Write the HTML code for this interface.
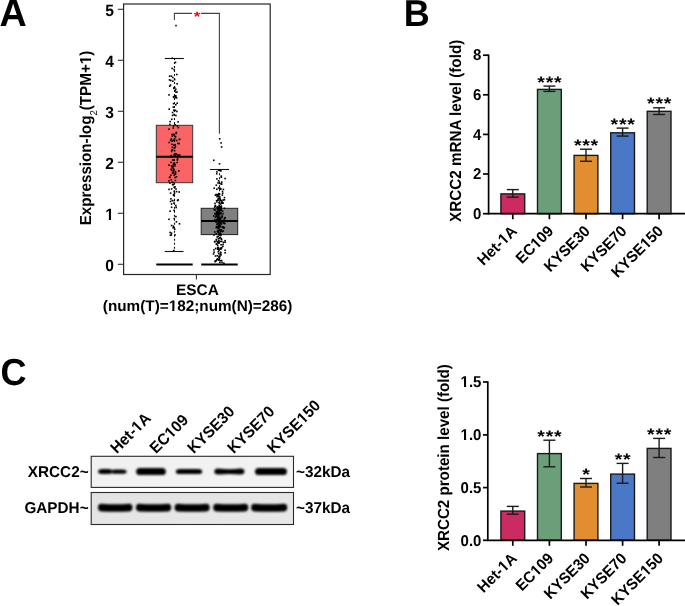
<!DOCTYPE html>
<html><head><meta charset="utf-8"><title>XRCC2 figure</title>
<style>html,body{margin:0;padding:0;background:#fff;overflow:hidden;}svg{display:block;}text{text-rendering:geometricPrecision;}</style>
</head><body>
<svg width="685" height="606" viewBox="0 0 685 606"><text transform="translate(-0.45,26.00) scale(1,1.03)" font-size="37.7" text-anchor="start" font-family="Liberation Sans, Arial, sans-serif" font-weight="bold" >A</text>
<rect x="156.3" y="125.3" width="36.4" height="57.4" fill="#FB6464" stroke="#333" stroke-width="1"/>
<rect x="201.2" y="208.3" width="36.5" height="26.3" fill="#808080" stroke="#222" stroke-width="1"/>
<g stroke="#111" stroke-width="1.1">
<line x1="164.8" y1="58.5" x2="183.9" y2="58.5"/>
<line x1="164.7" y1="251.5" x2="183.5" y2="251.5"/>
<line x1="210" y1="169.5" x2="229" y2="169.5"/>
<line x1="174.5" y1="58" x2="174.5" y2="125.3" stroke-dasharray="2,2"/>
<line x1="174.5" y1="182.7" x2="174.5" y2="251.1" stroke-dasharray="2,2"/>
<line x1="219.5" y1="169.2" x2="219.5" y2="208.3" stroke-dasharray="2,2"/>
</g>
<g fill="#000"><rect x="173.6" y="140.1" width="1.6" height="1.6"/><rect x="176.2" y="91.2" width="1.6" height="1.6"/><rect x="171.0" y="118.5" width="1.6" height="1.6"/><rect x="173.4" y="186.4" width="1.6" height="1.6"/><rect x="168.7" y="176.7" width="1.6" height="1.6"/><rect x="175.3" y="96.5" width="1.6" height="1.6"/><rect x="170.5" y="234.1" width="1.6" height="1.6"/><rect x="168.4" y="108.3" width="1.6" height="1.6"/><rect x="173.3" y="113.7" width="1.6" height="1.6"/><rect x="176.6" y="159.2" width="1.6" height="1.6"/><rect x="169.2" y="176.4" width="1.6" height="1.6"/><rect x="170.5" y="178.9" width="1.6" height="1.6"/><rect x="171.4" y="181.4" width="1.6" height="1.6"/><rect x="170.3" y="161.6" width="1.6" height="1.6"/><rect x="174.6" y="155.3" width="1.6" height="1.6"/><rect x="171.2" y="149.1" width="1.6" height="1.6"/><rect x="171.5" y="57.4" width="1.6" height="1.6"/><rect x="175.1" y="114.7" width="1.6" height="1.6"/><rect x="171.4" y="140.4" width="1.6" height="1.6"/><rect x="174.7" y="61.6" width="1.6" height="1.6"/><rect x="170.8" y="188.1" width="1.6" height="1.6"/><rect x="170.1" y="198.1" width="1.6" height="1.6"/><rect x="168.4" y="141.7" width="1.6" height="1.6"/><rect x="178.7" y="223.0" width="1.6" height="1.6"/><rect x="172.6" y="225.4" width="1.6" height="1.6"/><rect x="174.2" y="154.0" width="1.6" height="1.6"/><rect x="173.4" y="159.4" width="1.6" height="1.6"/><rect x="173.9" y="86.7" width="1.6" height="1.6"/><rect x="173.6" y="139.5" width="1.6" height="1.6"/><rect x="178.8" y="154.1" width="1.6" height="1.6"/><rect x="170.6" y="156.2" width="1.6" height="1.6"/><rect x="169.1" y="182.3" width="1.6" height="1.6"/><rect x="170.7" y="232.4" width="1.6" height="1.6"/><rect x="169.8" y="192.3" width="1.6" height="1.6"/><rect x="175.6" y="131.6" width="1.6" height="1.6"/><rect x="175.8" y="190.8" width="1.6" height="1.6"/><rect x="170.8" y="169.5" width="1.6" height="1.6"/><rect x="169.6" y="234.5" width="1.6" height="1.6"/><rect x="172.5" y="106.3" width="1.6" height="1.6"/><rect x="177.4" y="199.1" width="1.6" height="1.6"/><rect x="168.2" y="180.1" width="1.6" height="1.6"/><rect x="175.0" y="95.0" width="1.6" height="1.6"/><rect x="170.5" y="154.7" width="1.6" height="1.6"/><rect x="176.4" y="102.4" width="1.6" height="1.6"/><rect x="170.5" y="138.2" width="1.6" height="1.6"/><rect x="172.7" y="125.3" width="1.6" height="1.6"/><rect x="169.3" y="210.4" width="1.6" height="1.6"/><rect x="170.8" y="150.7" width="1.6" height="1.6"/><rect x="177.4" y="154.9" width="1.6" height="1.6"/><rect x="175.8" y="97.0" width="1.6" height="1.6"/><rect x="172.4" y="170.3" width="1.6" height="1.6"/><rect x="171.1" y="143.5" width="1.6" height="1.6"/><rect x="168.2" y="218.5" width="1.6" height="1.6"/><rect x="172.4" y="167.6" width="1.6" height="1.6"/><rect x="173.4" y="174.3" width="1.6" height="1.6"/><rect x="173.3" y="199.9" width="1.6" height="1.6"/><rect x="173.2" y="109.4" width="1.6" height="1.6"/><rect x="170.4" y="168.4" width="1.6" height="1.6"/><rect x="173.3" y="68.7" width="1.6" height="1.6"/><rect x="173.4" y="144.5" width="1.6" height="1.6"/><rect x="177.1" y="142.6" width="1.6" height="1.6"/><rect x="178.7" y="138.4" width="1.6" height="1.6"/><rect x="173.1" y="133.6" width="1.6" height="1.6"/><rect x="171.4" y="199.8" width="1.6" height="1.6"/><rect x="173.3" y="162.1" width="1.6" height="1.6"/><rect x="171.8" y="183.8" width="1.6" height="1.6"/><rect x="171.4" y="166.0" width="1.6" height="1.6"/><rect x="173.3" y="209.5" width="1.6" height="1.6"/><rect x="170.6" y="75.3" width="1.6" height="1.6"/><rect x="175.2" y="188.2" width="1.6" height="1.6"/><rect x="173.2" y="134.2" width="1.6" height="1.6"/><rect x="174.2" y="176.7" width="1.6" height="1.6"/><rect x="173.0" y="96.4" width="1.6" height="1.6"/><rect x="171.5" y="135.4" width="1.6" height="1.6"/><rect x="170.8" y="203.2" width="1.6" height="1.6"/><rect x="172.8" y="102.9" width="1.6" height="1.6"/><rect x="172.0" y="80.4" width="1.6" height="1.6"/><rect x="174.2" y="89.7" width="1.6" height="1.6"/><rect x="173.5" y="147.1" width="1.6" height="1.6"/><rect x="169.7" y="200.7" width="1.6" height="1.6"/><rect x="173.7" y="192.3" width="1.6" height="1.6"/><rect x="169.7" y="84.3" width="1.6" height="1.6"/><rect x="171.8" y="149.3" width="1.6" height="1.6"/><rect x="172.7" y="194.4" width="1.6" height="1.6"/><rect x="168.2" y="94.1" width="1.6" height="1.6"/><rect x="173.8" y="138.0" width="1.6" height="1.6"/><rect x="173.9" y="147.1" width="1.6" height="1.6"/><rect x="173.1" y="168.8" width="1.6" height="1.6"/><rect x="172.3" y="165.2" width="1.6" height="1.6"/><rect x="172.5" y="183.8" width="1.6" height="1.6"/><rect x="170.8" y="224.7" width="1.6" height="1.6"/><rect x="172.7" y="95.9" width="1.6" height="1.6"/><rect x="172.0" y="159.2" width="1.6" height="1.6"/><rect x="173.8" y="149.9" width="1.6" height="1.6"/><rect x="170.1" y="174.4" width="1.6" height="1.6"/><rect x="174.2" y="124.0" width="1.6" height="1.6"/><rect x="173.9" y="228.5" width="1.6" height="1.6"/><rect x="173.1" y="169.2" width="1.6" height="1.6"/><rect x="172.3" y="227.0" width="1.6" height="1.6"/><rect x="175.0" y="204.8" width="1.6" height="1.6"/><rect x="168.8" y="75.4" width="1.6" height="1.6"/><rect x="174.8" y="135.9" width="1.6" height="1.6"/><rect x="174.2" y="163.4" width="1.6" height="1.6"/><rect x="174.3" y="152.9" width="1.6" height="1.6"/><rect x="174.6" y="96.7" width="1.6" height="1.6"/><rect x="171.7" y="172.1" width="1.6" height="1.6"/><rect x="172.8" y="144.5" width="1.6" height="1.6"/><rect x="175.3" y="132.7" width="1.6" height="1.6"/><rect x="174.7" y="170.9" width="1.6" height="1.6"/><rect x="174.1" y="153.5" width="1.6" height="1.6"/><rect x="169.3" y="120.8" width="1.6" height="1.6"/><rect x="175.0" y="88.5" width="1.6" height="1.6"/><rect x="176.8" y="199.7" width="1.6" height="1.6"/><rect x="176.3" y="83.0" width="1.6" height="1.6"/><rect x="174.2" y="234.1" width="1.6" height="1.6"/><rect x="169.1" y="123.6" width="1.6" height="1.6"/><rect x="176.1" y="110.7" width="1.6" height="1.6"/><rect x="173.1" y="202.3" width="1.6" height="1.6"/><rect x="168.2" y="164.3" width="1.6" height="1.6"/><rect x="174.6" y="109.6" width="1.6" height="1.6"/><rect x="169.3" y="231.7" width="1.6" height="1.6"/><rect x="169.9" y="139.6" width="1.6" height="1.6"/><rect x="171.7" y="114.6" width="1.6" height="1.6"/><rect x="177.1" y="154.2" width="1.6" height="1.6"/><rect x="172.5" y="127.3" width="1.6" height="1.6"/><rect x="174.3" y="186.1" width="1.6" height="1.6"/><rect x="178.4" y="191.2" width="1.6" height="1.6"/><rect x="178.0" y="170.1" width="1.6" height="1.6"/><rect x="173.2" y="194.6" width="1.6" height="1.6"/><rect x="172.8" y="171.9" width="1.6" height="1.6"/><rect x="170.0" y="79.7" width="1.6" height="1.6"/><rect x="171.6" y="146.6" width="1.6" height="1.6"/><rect x="174.7" y="172.5" width="1.6" height="1.6"/><rect x="174.6" y="179.7" width="1.6" height="1.6"/><rect x="173.8" y="78.8" width="1.6" height="1.6"/><rect x="176.3" y="161.7" width="1.6" height="1.6"/><rect x="171.3" y="67.6" width="1.6" height="1.6"/><rect x="173.3" y="153.9" width="1.6" height="1.6"/><rect x="175.5" y="153.2" width="1.6" height="1.6"/><rect x="175.1" y="91.3" width="1.6" height="1.6"/><rect x="176.5" y="125.2" width="1.6" height="1.6"/><rect x="174.6" y="145.7" width="1.6" height="1.6"/><rect x="172.6" y="163.5" width="1.6" height="1.6"/><rect x="174.5" y="95.4" width="1.6" height="1.6"/><rect x="170.7" y="165.1" width="1.6" height="1.6"/><rect x="168.9" y="85.4" width="1.6" height="1.6"/><rect x="175.1" y="215.8" width="1.6" height="1.6"/><rect x="173.3" y="163.2" width="1.6" height="1.6"/><rect x="174.4" y="153.4" width="1.6" height="1.6"/><rect x="168.7" y="79.1" width="1.6" height="1.6"/><rect x="172.5" y="181.8" width="1.6" height="1.6"/><rect x="171.8" y="111.7" width="1.6" height="1.6"/><rect x="171.1" y="133.6" width="1.6" height="1.6"/><rect x="168.2" y="128.4" width="1.6" height="1.6"/><rect x="172.6" y="139.5" width="1.6" height="1.6"/><rect x="176.0" y="73.7" width="1.6" height="1.6"/><rect x="174.6" y="173.3" width="1.6" height="1.6"/><rect x="171.8" y="166.5" width="1.6" height="1.6"/><rect x="173.5" y="190.4" width="1.6" height="1.6"/><rect x="175.6" y="221.0" width="1.6" height="1.6"/><rect x="168.2" y="188.6" width="1.6" height="1.6"/><rect x="173.2" y="87.1" width="1.6" height="1.6"/><rect x="175.0" y="104.0" width="1.6" height="1.6"/><rect x="175.4" y="206.7" width="1.6" height="1.6"/><rect x="178.3" y="142.8" width="1.6" height="1.6"/><rect x="176.7" y="158.1" width="1.6" height="1.6"/><rect x="174.4" y="143.9" width="1.6" height="1.6"/><rect x="174.3" y="135.7" width="1.6" height="1.6"/><rect x="175.7" y="176.0" width="1.6" height="1.6"/><rect x="172.0" y="76.7" width="1.6" height="1.6"/><rect x="173.4" y="159.4" width="1.6" height="1.6"/><rect x="176.0" y="139.7" width="1.6" height="1.6"/><rect x="178.8" y="138.8" width="1.6" height="1.6"/><rect x="173.1" y="193.8" width="1.6" height="1.6"/><rect x="173.4" y="217.8" width="1.6" height="1.6"/><rect x="174.1" y="165.1" width="1.6" height="1.6"/><rect x="177.3" y="121.1" width="1.6" height="1.6"/><rect x="173.4" y="109.6" width="1.6" height="1.6"/><rect x="177.6" y="126.8" width="1.6" height="1.6"/><rect x="170.8" y="206.5" width="1.6" height="1.6"/><rect x="173.0" y="87.5" width="1.6" height="1.6"/><rect x="172.9" y="249.7" width="1.6" height="1.6"/><rect x="175.2" y="24.8" width="1.6" height="1.6"/><rect x="221.2" y="202.1" width="1.6" height="1.6"/><rect x="214.6" y="194.4" width="1.6" height="1.6"/><rect x="216.1" y="219.0" width="1.6" height="1.6"/><rect x="219.4" y="188.3" width="1.6" height="1.6"/><rect x="216.8" y="258.0" width="1.6" height="1.6"/><rect x="214.5" y="260.3" width="1.6" height="1.6"/><rect x="221.2" y="261.7" width="1.6" height="1.6"/><rect x="219.8" y="233.8" width="1.6" height="1.6"/><rect x="219.8" y="234.1" width="1.6" height="1.6"/><rect x="217.3" y="241.0" width="1.6" height="1.6"/><rect x="221.2" y="216.7" width="1.6" height="1.6"/><rect x="217.9" y="259.1" width="1.6" height="1.6"/><rect x="221.4" y="215.5" width="1.6" height="1.6"/><rect x="216.1" y="243.5" width="1.6" height="1.6"/><rect x="216.3" y="211.1" width="1.6" height="1.6"/><rect x="219.0" y="261.6" width="1.6" height="1.6"/><rect x="216.7" y="230.6" width="1.6" height="1.6"/><rect x="220.3" y="182.9" width="1.6" height="1.6"/><rect x="219.2" y="218.2" width="1.6" height="1.6"/><rect x="216.1" y="201.1" width="1.6" height="1.6"/><rect x="218.7" y="212.1" width="1.6" height="1.6"/><rect x="217.6" y="214.5" width="1.6" height="1.6"/><rect x="220.9" y="240.6" width="1.6" height="1.6"/><rect x="216.9" y="216.4" width="1.6" height="1.6"/><rect x="217.4" y="259.0" width="1.6" height="1.6"/><rect x="221.6" y="202.1" width="1.6" height="1.6"/><rect x="224.3" y="177.7" width="1.6" height="1.6"/><rect x="223.7" y="196.8" width="1.6" height="1.6"/><rect x="218.7" y="257.4" width="1.6" height="1.6"/><rect x="219.1" y="229.0" width="1.6" height="1.6"/><rect x="222.5" y="230.2" width="1.6" height="1.6"/><rect x="218.2" y="249.6" width="1.6" height="1.6"/><rect x="216.0" y="213.7" width="1.6" height="1.6"/><rect x="218.8" y="202.6" width="1.6" height="1.6"/><rect x="219.7" y="230.4" width="1.6" height="1.6"/><rect x="216.3" y="195.9" width="1.6" height="1.6"/><rect x="214.2" y="202.6" width="1.6" height="1.6"/><rect x="214.8" y="247.7" width="1.6" height="1.6"/><rect x="220.2" y="205.7" width="1.6" height="1.6"/><rect x="216.5" y="193.9" width="1.6" height="1.6"/><rect x="218.1" y="239.9" width="1.6" height="1.6"/><rect x="219.1" y="216.4" width="1.6" height="1.6"/><rect x="220.1" y="213.1" width="1.6" height="1.6"/><rect x="217.6" y="214.6" width="1.6" height="1.6"/><rect x="219.8" y="251.4" width="1.6" height="1.6"/><rect x="216.2" y="211.9" width="1.6" height="1.6"/><rect x="217.6" y="213.4" width="1.6" height="1.6"/><rect x="215.8" y="199.9" width="1.6" height="1.6"/><rect x="221.4" y="201.9" width="1.6" height="1.6"/><rect x="218.4" y="229.7" width="1.6" height="1.6"/><rect x="216.6" y="208.8" width="1.6" height="1.6"/><rect x="217.6" y="195.4" width="1.6" height="1.6"/><rect x="217.9" y="192.8" width="1.6" height="1.6"/><rect x="220.3" y="244.0" width="1.6" height="1.6"/><rect x="214.4" y="260.8" width="1.6" height="1.6"/><rect x="215.8" y="212.5" width="1.6" height="1.6"/><rect x="217.5" y="237.9" width="1.6" height="1.6"/><rect x="224.3" y="216.9" width="1.6" height="1.6"/><rect x="221.0" y="181.3" width="1.6" height="1.6"/><rect x="218.2" y="226.8" width="1.6" height="1.6"/><rect x="220.4" y="233.8" width="1.6" height="1.6"/><rect x="223.8" y="222.5" width="1.6" height="1.6"/><rect x="217.9" y="212.1" width="1.6" height="1.6"/><rect x="217.5" y="250.9" width="1.6" height="1.6"/><rect x="221.7" y="226.7" width="1.6" height="1.6"/><rect x="219.8" y="247.2" width="1.6" height="1.6"/><rect x="220.2" y="211.9" width="1.6" height="1.6"/><rect x="217.2" y="199.2" width="1.6" height="1.6"/><rect x="223.5" y="226.9" width="1.6" height="1.6"/><rect x="222.9" y="227.2" width="1.6" height="1.6"/><rect x="220.0" y="218.1" width="1.6" height="1.6"/><rect x="220.3" y="237.9" width="1.6" height="1.6"/><rect x="213.2" y="234.2" width="1.6" height="1.6"/><rect x="220.2" y="229.5" width="1.6" height="1.6"/><rect x="218.0" y="222.5" width="1.6" height="1.6"/><rect x="219.6" y="253.1" width="1.6" height="1.6"/><rect x="220.3" y="207.1" width="1.6" height="1.6"/><rect x="217.6" y="216.1" width="1.6" height="1.6"/><rect x="214.1" y="231.2" width="1.6" height="1.6"/><rect x="219.5" y="253.6" width="1.6" height="1.6"/><rect x="216.6" y="206.1" width="1.6" height="1.6"/><rect x="217.6" y="247.5" width="1.6" height="1.6"/><rect x="216.9" y="247.2" width="1.6" height="1.6"/><rect x="217.6" y="247.5" width="1.6" height="1.6"/><rect x="212.7" y="253.2" width="1.6" height="1.6"/><rect x="221.7" y="190.6" width="1.6" height="1.6"/><rect x="219.2" y="232.9" width="1.6" height="1.6"/><rect x="221.4" y="230.8" width="1.6" height="1.6"/><rect x="223.6" y="199.0" width="1.6" height="1.6"/><rect x="218.6" y="214.0" width="1.6" height="1.6"/><rect x="213.8" y="241.1" width="1.6" height="1.6"/><rect x="216.2" y="223.7" width="1.6" height="1.6"/><rect x="215.4" y="193.7" width="1.6" height="1.6"/><rect x="217.2" y="227.0" width="1.6" height="1.6"/><rect x="218.7" y="209.4" width="1.6" height="1.6"/><rect x="213.3" y="251.4" width="1.6" height="1.6"/><rect x="219.4" y="208.6" width="1.6" height="1.6"/><rect x="214.6" y="204.7" width="1.6" height="1.6"/><rect x="219.3" y="199.7" width="1.6" height="1.6"/><rect x="218.2" y="211.3" width="1.6" height="1.6"/><rect x="217.7" y="227.3" width="1.6" height="1.6"/><rect x="218.3" y="255.5" width="1.6" height="1.6"/><rect x="217.1" y="219.2" width="1.6" height="1.6"/><rect x="216.9" y="206.6" width="1.6" height="1.6"/><rect x="214.1" y="240.7" width="1.6" height="1.6"/><rect x="218.4" y="233.0" width="1.6" height="1.6"/><rect x="223.3" y="218.3" width="1.6" height="1.6"/><rect x="223.6" y="207.5" width="1.6" height="1.6"/><rect x="221.9" y="192.4" width="1.6" height="1.6"/><rect x="220.3" y="248.1" width="1.6" height="1.6"/><rect x="216.7" y="241.4" width="1.6" height="1.6"/><rect x="222.3" y="202.3" width="1.6" height="1.6"/><rect x="218.4" y="212.8" width="1.6" height="1.6"/><rect x="218.3" y="208.9" width="1.6" height="1.6"/><rect x="217.7" y="169.3" width="1.6" height="1.6"/><rect x="218.7" y="182.7" width="1.6" height="1.6"/><rect x="217.4" y="197.9" width="1.6" height="1.6"/><rect x="218.3" y="204.6" width="1.6" height="1.6"/><rect x="215.7" y="225.9" width="1.6" height="1.6"/><rect x="217.5" y="212.9" width="1.6" height="1.6"/><rect x="224.3" y="241.4" width="1.6" height="1.6"/><rect x="218.3" y="206.4" width="1.6" height="1.6"/><rect x="217.9" y="206.6" width="1.6" height="1.6"/><rect x="219.9" y="208.9" width="1.6" height="1.6"/><rect x="220.3" y="223.2" width="1.6" height="1.6"/><rect x="215.6" y="226.9" width="1.6" height="1.6"/><rect x="218.0" y="224.6" width="1.6" height="1.6"/><rect x="220.9" y="259.8" width="1.6" height="1.6"/><rect x="219.2" y="197.8" width="1.6" height="1.6"/><rect x="218.8" y="218.0" width="1.6" height="1.6"/><rect x="222.5" y="226.3" width="1.6" height="1.6"/><rect x="216.7" y="217.7" width="1.6" height="1.6"/><rect x="218.7" y="208.8" width="1.6" height="1.6"/><rect x="217.1" y="226.7" width="1.6" height="1.6"/><rect x="222.4" y="199.2" width="1.6" height="1.6"/><rect x="213.4" y="187.4" width="1.6" height="1.6"/><rect x="216.8" y="226.4" width="1.6" height="1.6"/><rect x="217.1" y="246.7" width="1.6" height="1.6"/><rect x="220.2" y="206.3" width="1.6" height="1.6"/><rect x="220.1" y="170.1" width="1.6" height="1.6"/><rect x="222.1" y="245.5" width="1.6" height="1.6"/><rect x="214.4" y="209.3" width="1.6" height="1.6"/><rect x="220.5" y="199.7" width="1.6" height="1.6"/><rect x="217.7" y="187.2" width="1.6" height="1.6"/><rect x="216.8" y="248.4" width="1.6" height="1.6"/><rect x="219.9" y="252.0" width="1.6" height="1.6"/><rect x="216.1" y="171.1" width="1.6" height="1.6"/><rect x="213.1" y="249.1" width="1.6" height="1.6"/><rect x="217.5" y="242.3" width="1.6" height="1.6"/><rect x="214.6" y="216.3" width="1.6" height="1.6"/><rect x="216.8" y="223.1" width="1.6" height="1.6"/><rect x="219.5" y="207.4" width="1.6" height="1.6"/><rect x="219.3" y="240.7" width="1.6" height="1.6"/><rect x="222.6" y="188.6" width="1.6" height="1.6"/><rect x="218.0" y="237.7" width="1.6" height="1.6"/><rect x="214.5" y="205.5" width="1.6" height="1.6"/><rect x="216.5" y="255.0" width="1.6" height="1.6"/><rect x="216.1" y="221.6" width="1.6" height="1.6"/><rect x="215.3" y="260.0" width="1.6" height="1.6"/><rect x="219.6" y="230.4" width="1.6" height="1.6"/><rect x="216.8" y="230.5" width="1.6" height="1.6"/><rect x="213.4" y="208.9" width="1.6" height="1.6"/><rect x="220.3" y="222.6" width="1.6" height="1.6"/><rect x="218.2" y="256.6" width="1.6" height="1.6"/><rect x="219.4" y="169.6" width="1.6" height="1.6"/><rect x="218.8" y="193.3" width="1.6" height="1.6"/><rect x="220.1" y="188.2" width="1.6" height="1.6"/><rect x="218.6" y="234.3" width="1.6" height="1.6"/><rect x="221.7" y="226.0" width="1.6" height="1.6"/><rect x="219.6" y="236.5" width="1.6" height="1.6"/><rect x="219.5" y="248.2" width="1.6" height="1.6"/><rect x="219.6" y="259.9" width="1.6" height="1.6"/><rect x="214.7" y="220.0" width="1.6" height="1.6"/><rect x="218.1" y="248.4" width="1.6" height="1.6"/><rect x="217.8" y="242.3" width="1.6" height="1.6"/><rect x="219.0" y="196.1" width="1.6" height="1.6"/><rect x="215.0" y="221.0" width="1.6" height="1.6"/><rect x="222.7" y="241.5" width="1.6" height="1.6"/><rect x="218.8" y="211.5" width="1.6" height="1.6"/><rect x="215.4" y="233.0" width="1.6" height="1.6"/><rect x="214.1" y="218.8" width="1.6" height="1.6"/><rect x="217.8" y="232.1" width="1.6" height="1.6"/><rect x="218.3" y="219.3" width="1.6" height="1.6"/><rect x="216.6" y="213.6" width="1.6" height="1.6"/><rect x="218.7" y="218.3" width="1.6" height="1.6"/><rect x="216.8" y="225.9" width="1.6" height="1.6"/><rect x="219.9" y="203.2" width="1.6" height="1.6"/><rect x="216.6" y="194.8" width="1.6" height="1.6"/><rect x="218.4" y="242.0" width="1.6" height="1.6"/><rect x="221.0" y="246.9" width="1.6" height="1.6"/><rect x="224.3" y="249.5" width="1.6" height="1.6"/><rect x="215.9" y="173.0" width="1.6" height="1.6"/><rect x="217.3" y="182.1" width="1.6" height="1.6"/><rect x="216.3" y="236.1" width="1.6" height="1.6"/><rect x="220.5" y="175.3" width="1.6" height="1.6"/><rect x="215.5" y="238.7" width="1.6" height="1.6"/><rect x="217.2" y="219.8" width="1.6" height="1.6"/><rect x="218.4" y="220.3" width="1.6" height="1.6"/><rect x="216.0" y="188.5" width="1.6" height="1.6"/><rect x="216.0" y="258.8" width="1.6" height="1.6"/><rect x="217.3" y="230.3" width="1.6" height="1.6"/><rect x="213.0" y="215.1" width="1.6" height="1.6"/><rect x="214.7" y="255.2" width="1.6" height="1.6"/><rect x="217.4" y="235.5" width="1.6" height="1.6"/><rect x="218.9" y="222.1" width="1.6" height="1.6"/><rect x="218.0" y="194.1" width="1.6" height="1.6"/><rect x="213.9" y="206.3" width="1.6" height="1.6"/><rect x="217.3" y="199.3" width="1.6" height="1.6"/><rect x="220.6" y="206.3" width="1.6" height="1.6"/><rect x="219.9" y="209.6" width="1.6" height="1.6"/><rect x="218.3" y="197.2" width="1.6" height="1.6"/><rect x="216.2" y="210.9" width="1.6" height="1.6"/><rect x="220.1" y="208.1" width="1.6" height="1.6"/><rect x="217.0" y="231.1" width="1.6" height="1.6"/><rect x="215.5" y="243.3" width="1.6" height="1.6"/><rect x="216.4" y="206.7" width="1.6" height="1.6"/><rect x="222.3" y="243.5" width="1.6" height="1.6"/><rect x="219.1" y="187.4" width="1.6" height="1.6"/><rect x="221.5" y="215.2" width="1.6" height="1.6"/><rect x="217.3" y="229.5" width="1.6" height="1.6"/><rect x="220.9" y="183.3" width="1.6" height="1.6"/><rect x="216.9" y="244.7" width="1.6" height="1.6"/><rect x="218.1" y="219.4" width="1.6" height="1.6"/><rect x="224.3" y="252.0" width="1.6" height="1.6"/><rect x="220.5" y="176.4" width="1.6" height="1.6"/><rect x="217.2" y="216.3" width="1.6" height="1.6"/><rect x="218.3" y="201.9" width="1.6" height="1.6"/><rect x="219.3" y="232.2" width="1.6" height="1.6"/><rect x="221.6" y="202.1" width="1.6" height="1.6"/><rect x="217.2" y="209.8" width="1.6" height="1.6"/><rect x="214.0" y="212.8" width="1.6" height="1.6"/><rect x="217.8" y="180.0" width="1.6" height="1.6"/><rect x="218.5" y="223.8" width="1.6" height="1.6"/><rect x="218.8" y="224.8" width="1.6" height="1.6"/><rect x="221.9" y="210.4" width="1.6" height="1.6"/><rect x="219.3" y="198.7" width="1.6" height="1.6"/><rect x="220.6" y="229.2" width="1.6" height="1.6"/><rect x="215.6" y="211.5" width="1.6" height="1.6"/><rect x="220.8" y="238.6" width="1.6" height="1.6"/><rect x="224.0" y="217.5" width="1.6" height="1.6"/><rect x="220.5" y="205.4" width="1.6" height="1.6"/><rect x="219.2" y="255.4" width="1.6" height="1.6"/><rect x="218.9" y="208.5" width="1.6" height="1.6"/><rect x="223.1" y="262.4" width="1.6" height="1.6"/><rect x="216.1" y="178.1" width="1.6" height="1.6"/><rect x="218.2" y="221.9" width="1.6" height="1.6"/><rect x="219.7" y="225.2" width="1.6" height="1.6"/><rect x="220.4" y="208.9" width="1.6" height="1.6"/><rect x="217.4" y="219.0" width="1.6" height="1.6"/><rect x="219.3" y="208.4" width="1.6" height="1.6"/><rect x="217.8" y="252.8" width="1.6" height="1.6"/><rect x="218.8" y="216.9" width="1.6" height="1.6"/><rect x="218.2" y="217.2" width="1.6" height="1.6"/><rect x="215.5" y="184.4" width="1.6" height="1.6"/><rect x="218.4" y="259.0" width="1.6" height="1.6"/><rect x="220.8" y="222.7" width="1.6" height="1.6"/><rect x="216.0" y="213.5" width="1.6" height="1.6"/><rect x="217.9" y="217.6" width="1.6" height="1.6"/><rect x="220.2" y="254.1" width="1.6" height="1.6"/><rect x="215.7" y="215.4" width="1.6" height="1.6"/><rect x="219.0" y="237.1" width="1.6" height="1.6"/><rect x="215.7" y="240.1" width="1.6" height="1.6"/><rect x="221.5" y="194.3" width="1.6" height="1.6"/><rect x="224.3" y="239.9" width="1.6" height="1.6"/><rect x="223.8" y="222.7" width="1.6" height="1.6"/><rect x="217.9" y="207.4" width="1.6" height="1.6"/><rect x="220.4" y="209.6" width="1.6" height="1.6"/><rect x="218.8" y="217.4" width="1.6" height="1.6"/><rect x="218.8" y="201.6" width="1.6" height="1.6"/><rect x="222.5" y="222.0" width="1.6" height="1.6"/><rect x="215.1" y="214.0" width="1.6" height="1.6"/><rect x="221.2" y="200.4" width="1.6" height="1.6"/><rect x="218.4" y="211.1" width="1.6" height="1.6"/><rect x="222.2" y="212.9" width="1.6" height="1.6"/><rect x="219.0" y="225.3" width="1.6" height="1.6"/><rect x="216.8" y="217.2" width="1.6" height="1.6"/><rect x="219.2" y="225.9" width="1.6" height="1.6"/><rect x="220.4" y="207.7" width="1.6" height="1.6"/><rect x="218.6" y="226.7" width="1.6" height="1.6"/><rect x="219.8" y="222.0" width="1.6" height="1.6"/><rect x="217.1" y="206.8" width="1.6" height="1.6"/><rect x="213.0" y="159.5" width="1.6" height="1.6"/><rect x="220.8" y="146.2" width="1.6" height="1.6"/><rect x="220.3" y="142.1" width="1.6" height="1.6"/><rect x="218.9" y="138.0" width="1.6" height="1.6"/><rect x="218.7" y="163.0" width="1.6" height="1.6"/></g>
<g stroke="#000" stroke-width="2">
<line x1="156.3" y1="156.7" x2="192.7" y2="156.7"/>
<line x1="201.2" y1="221" x2="237.7" y2="221"/>
<line x1="156.3" y1="264.6" x2="192.7" y2="264.6"/>
<line x1="201.2" y1="264.6" x2="237.7" y2="264.6"/>
</g>
<g stroke="#444" stroke-width="1.1" fill="none">
<polyline points="174.4,19.9 174.4,13.4 192.1,13.4"/>
<polyline points="200.9,13.4 219.4,13.4 219.4,133.8"/>
</g>
<text transform="translate(197.1,20.9) scale(1,0.8)" font-size="17" fill="#f00" text-anchor="middle" font-family="Liberation Sans, Arial, sans-serif" font-weight="bold">*</text>
<rect x="123.6" y="4.0" width="146.6" height="270.5" fill="none" stroke="#262626" stroke-width="1.2"/>
<line x1="117.8" y1="264.3" x2="123.6" y2="264.3" stroke="#333" stroke-width="1.1"/>
<text transform="translate(113.90,270.65) scale(1,1.04)" font-size="15.6" text-anchor="end" font-family="Liberation Sans, Arial, sans-serif" font-weight="bold" >0</text>
<line x1="117.8" y1="213.3" x2="123.6" y2="213.3" stroke="#333" stroke-width="1.1"/>
<text transform="translate(113.90,219.65) scale(1,1.04)" font-size="15.6" text-anchor="end" font-family="Liberation Sans, Arial, sans-serif" font-weight="bold" >1</text>
<line x1="117.8" y1="162.3" x2="123.6" y2="162.3" stroke="#333" stroke-width="1.1"/>
<text transform="translate(113.90,168.65) scale(1,1.04)" font-size="15.6" text-anchor="end" font-family="Liberation Sans, Arial, sans-serif" font-weight="bold" >2</text>
<line x1="117.8" y1="111.3" x2="123.6" y2="111.3" stroke="#333" stroke-width="1.1"/>
<text transform="translate(113.90,117.65) scale(1,1.04)" font-size="15.6" text-anchor="end" font-family="Liberation Sans, Arial, sans-serif" font-weight="bold" >3</text>
<line x1="117.8" y1="60.3" x2="123.6" y2="60.3" stroke="#333" stroke-width="1.1"/>
<text transform="translate(113.90,66.65) scale(1,1.04)" font-size="15.6" text-anchor="end" font-family="Liberation Sans, Arial, sans-serif" font-weight="bold" >4</text>
<line x1="117.8" y1="9.3" x2="123.6" y2="9.3" stroke="#333" stroke-width="1.1"/>
<text transform="translate(113.90,15.65) scale(1,1.04)" font-size="15.6" text-anchor="end" font-family="Liberation Sans, Arial, sans-serif" font-weight="bold" >5</text>
<line x1="196.4" y1="274.3" x2="196.4" y2="279.5" stroke="#333" stroke-width="1.1"/>
<text transform="translate(197.40,295.20)" font-size="15.4" text-anchor="middle" font-family="Liberation Sans, Arial, sans-serif" font-weight="bold" >ESCA</text>
<text transform="translate(197.60,311.30)" font-size="15.3" text-anchor="middle" font-family="Liberation Sans, Arial, sans-serif" font-weight="bold" >(num(T)=182;num(N)=286)</text>
<text transform="translate(91.20,138.00) rotate(-90) scale(1,1.05)" font-size="15.2" text-anchor="middle" font-family="Liberation Sans, Arial, sans-serif" font-weight="bold" >Expression-log<tspan font-size="9.6" font-weight="normal" dy="5.3">2</tspan><tspan dy="-5.3">(TPM+1)</tspan></text>
<text transform="translate(403.80,26.00) scale(1,1.036)" font-size="36" text-anchor="start" font-family="Liberation Sans, Arial, sans-serif" font-weight="bold" >B</text>
<rect x="500.9" y="193.9" width="23.8" height="19.8" fill="#CC2A63" stroke="#1a1a1a" stroke-width="1.4"/>
<g stroke="#1a1a1a" stroke-width="1.4"><line x1="512.8" y1="189.6" x2="512.8" y2="197.2"/><line x1="506.79999999999995" y1="189.6" x2="518.8" y2="189.6"/><line x1="506.79999999999995" y1="197.2" x2="518.8" y2="197.2"/></g>
<rect x="537.5" y="89.4" width="23.8" height="124.3" fill="#6A9F7A" stroke="#1a1a1a" stroke-width="1.4"/>
<g stroke="#1a1a1a" stroke-width="1.4"><line x1="549.4" y1="86.1" x2="549.4" y2="91.4"/><line x1="543.4" y1="86.1" x2="555.4" y2="86.1"/><line x1="543.4" y1="91.4" x2="555.4" y2="91.4"/></g>
<text transform="translate(549.85,87.50) scale(1,0.85)" font-size="19.6" letter-spacing="0.7" text-anchor="middle" font-family="Liberation Sans, Arial, sans-serif" font-weight="bold">***</text>
<rect x="574.1" y="155.4" width="23.8" height="58.3" fill="#E18E30" stroke="#1a1a1a" stroke-width="1.4"/>
<g stroke="#1a1a1a" stroke-width="1.4"><line x1="586.0" y1="149.2" x2="586.0" y2="161.3"/><line x1="580.0" y1="149.2" x2="592.0" y2="149.2"/><line x1="580.0" y1="161.3" x2="592.0" y2="161.3"/></g>
<text transform="translate(586.45,150.60) scale(1,0.85)" font-size="19.6" letter-spacing="0.7" text-anchor="middle" font-family="Liberation Sans, Arial, sans-serif" font-weight="bold">***</text>
<rect x="610.7" y="132.8" width="23.8" height="80.9" fill="#4A78C6" stroke="#1a1a1a" stroke-width="1.4"/>
<g stroke="#1a1a1a" stroke-width="1.4"><line x1="622.6" y1="128.1" x2="622.6" y2="136.1"/><line x1="616.6" y1="128.1" x2="628.6" y2="128.1"/><line x1="616.6" y1="136.1" x2="628.6" y2="136.1"/></g>
<text transform="translate(623.05,129.50) scale(1,0.85)" font-size="19.6" letter-spacing="0.7" text-anchor="middle" font-family="Liberation Sans, Arial, sans-serif" font-weight="bold">***</text>
<rect x="647.2" y="111.3" width="23.8" height="102.4" fill="#7F7F7F" stroke="#1a1a1a" stroke-width="1.4"/>
<g stroke="#1a1a1a" stroke-width="1.4"><line x1="659.1" y1="107.8" x2="659.1" y2="114.5"/><line x1="653.1" y1="107.8" x2="665.1" y2="107.8"/><line x1="653.1" y1="114.5" x2="665.1" y2="114.5"/></g>
<text transform="translate(659.55,109.20) scale(1,0.85)" font-size="19.6" letter-spacing="0.7" text-anchor="middle" font-family="Liberation Sans, Arial, sans-serif" font-weight="bold">***</text>
<line x1="488.6" y1="54.5" x2="488.6" y2="214.39999999999998" stroke="#000" stroke-width="1.7"/>
<line x1="487.8" y1="213.7" x2="685" y2="213.7" stroke="#000" stroke-width="1.8"/>
<line x1="483" y1="55.2" x2="488.6" y2="55.2" stroke="#000" stroke-width="1.7"/>
<text transform="translate(481.40,60.40) scale(1,1.04)" font-size="15" text-anchor="end" font-family="Liberation Sans, Arial, sans-serif" font-weight="bold" >8</text>
<line x1="483" y1="94.8" x2="488.6" y2="94.8" stroke="#000" stroke-width="1.7"/>
<text transform="translate(481.40,100.00) scale(1,1.04)" font-size="15" text-anchor="end" font-family="Liberation Sans, Arial, sans-serif" font-weight="bold" >6</text>
<line x1="483" y1="134.4" x2="488.6" y2="134.4" stroke="#000" stroke-width="1.7"/>
<text transform="translate(481.40,139.60) scale(1,1.04)" font-size="15" text-anchor="end" font-family="Liberation Sans, Arial, sans-serif" font-weight="bold" >4</text>
<line x1="483" y1="174" x2="488.6" y2="174" stroke="#000" stroke-width="1.7"/>
<text transform="translate(481.40,179.20) scale(1,1.04)" font-size="15" text-anchor="end" font-family="Liberation Sans, Arial, sans-serif" font-weight="bold" >2</text>
<line x1="483" y1="213.7" x2="488.6" y2="213.7" stroke="#000" stroke-width="1.7"/>
<text transform="translate(481.40,218.90) scale(1,1.04)" font-size="15" text-anchor="end" font-family="Liberation Sans, Arial, sans-serif" font-weight="bold" >0</text>
<line x1="512.8" y1="213.7" x2="512.8" y2="219.2" stroke="#000" stroke-width="1.7"/>
<text transform="translate(517.80,232.00) rotate(-45) scale(1,1.04)" font-size="15" text-anchor="end" font-family="Liberation Sans, Arial, sans-serif" font-weight="bold" >Het-1A</text>
<line x1="549.4" y1="213.7" x2="549.4" y2="219.2" stroke="#000" stroke-width="1.7"/>
<text transform="translate(554.40,232.00) rotate(-45) scale(1,1.04)" font-size="15" text-anchor="end" font-family="Liberation Sans, Arial, sans-serif" font-weight="bold" >EC109</text>
<line x1="586.0" y1="213.7" x2="586.0" y2="219.2" stroke="#000" stroke-width="1.7"/>
<text transform="translate(591.00,232.00) rotate(-45) scale(1,1.04)" font-size="15" text-anchor="end" font-family="Liberation Sans, Arial, sans-serif" font-weight="bold" >KYSE30</text>
<line x1="622.6" y1="213.7" x2="622.6" y2="219.2" stroke="#000" stroke-width="1.7"/>
<text transform="translate(627.60,232.00) rotate(-45) scale(1,1.04)" font-size="15" text-anchor="end" font-family="Liberation Sans, Arial, sans-serif" font-weight="bold" >KYSE70</text>
<line x1="659.1" y1="213.7" x2="659.1" y2="219.2" stroke="#000" stroke-width="1.7"/>
<text transform="translate(664.10,232.00) rotate(-45) scale(1,1.04)" font-size="15" text-anchor="end" font-family="Liberation Sans, Arial, sans-serif" font-weight="bold" >KYSE150</text>
<text transform="translate(460.60,130.85) rotate(-90) scale(1,1.06)" font-size="15.24" text-anchor="middle" font-family="Liberation Sans, Arial, sans-serif" font-weight="bold" >XRCC2 mRNA level (fold)</text>
<text transform="translate(0.40,385.40) scale(1,1.05)" font-size="36" text-anchor="start" font-family="Liberation Sans, Arial, sans-serif" font-weight="bold" >C</text>
<rect x="500.9" y="511.1" width="23.8" height="29.2" fill="#CC2A63" stroke="#1a1a1a" stroke-width="1.4"/>
<g stroke="#1a1a1a" stroke-width="1.4"><line x1="512.8" y1="506.4" x2="512.8" y2="514.2"/><line x1="506.79999999999995" y1="506.4" x2="518.8" y2="506.4"/><line x1="506.79999999999995" y1="514.2" x2="518.8" y2="514.2"/></g>
<rect x="537.5" y="453.6" width="23.8" height="86.7" fill="#6A9F7A" stroke="#1a1a1a" stroke-width="1.4"/>
<g stroke="#1a1a1a" stroke-width="1.4"><line x1="549.4" y1="440.2" x2="549.4" y2="466.8"/><line x1="543.4" y1="440.2" x2="555.4" y2="440.2"/><line x1="543.4" y1="466.8" x2="555.4" y2="466.8"/></g>
<text transform="translate(549.85,441.60) scale(1,0.85)" font-size="19.6" letter-spacing="0.7" text-anchor="middle" font-family="Liberation Sans, Arial, sans-serif" font-weight="bold">***</text>
<rect x="574.1" y="483.4" width="23.8" height="56.9" fill="#E18E30" stroke="#1a1a1a" stroke-width="1.4"/>
<g stroke="#1a1a1a" stroke-width="1.4"><line x1="586.0" y1="478.5" x2="586.0" y2="487"/><line x1="580.0" y1="478.5" x2="592.0" y2="478.5"/><line x1="580.0" y1="487" x2="592.0" y2="487"/></g>
<text transform="translate(586.45,479.90) scale(1,0.85)" font-size="19.6" letter-spacing="0.7" text-anchor="middle" font-family="Liberation Sans, Arial, sans-serif" font-weight="bold">*</text>
<rect x="610.7" y="474.1" width="23.8" height="66.2" fill="#4A78C6" stroke="#1a1a1a" stroke-width="1.4"/>
<g stroke="#1a1a1a" stroke-width="1.4"><line x1="622.6" y1="463.4" x2="622.6" y2="483.2"/><line x1="616.6" y1="463.4" x2="628.6" y2="463.4"/><line x1="616.6" y1="483.2" x2="628.6" y2="483.2"/></g>
<text transform="translate(623.05,464.80) scale(1,0.85)" font-size="19.6" letter-spacing="0.7" text-anchor="middle" font-family="Liberation Sans, Arial, sans-serif" font-weight="bold">**</text>
<rect x="647.2" y="448.4" width="23.8" height="91.9" fill="#7F7F7F" stroke="#1a1a1a" stroke-width="1.4"/>
<g stroke="#1a1a1a" stroke-width="1.4"><line x1="659.1" y1="438.4" x2="659.1" y2="457.5"/><line x1="653.1" y1="438.4" x2="665.1" y2="438.4"/><line x1="653.1" y1="457.5" x2="665.1" y2="457.5"/></g>
<text transform="translate(659.55,439.80) scale(1,0.85)" font-size="19.6" letter-spacing="0.7" text-anchor="middle" font-family="Liberation Sans, Arial, sans-serif" font-weight="bold">***</text>
<line x1="487.8" y1="381.3" x2="487.8" y2="541.0" stroke="#000" stroke-width="1.7"/>
<line x1="487.0" y1="540.3" x2="685" y2="540.3" stroke="#000" stroke-width="1.8"/>
<line x1="483" y1="382" x2="487.8" y2="382" stroke="#000" stroke-width="1.7"/>
<text transform="translate(481.40,387.20) scale(1,1.04)" font-size="15" text-anchor="end" font-family="Liberation Sans, Arial, sans-serif" font-weight="bold" >1.5</text>
<line x1="483" y1="434.9" x2="487.8" y2="434.9" stroke="#000" stroke-width="1.7"/>
<text transform="translate(481.40,440.10) scale(1,1.04)" font-size="15" text-anchor="end" font-family="Liberation Sans, Arial, sans-serif" font-weight="bold" >1.0</text>
<line x1="483" y1="487.6" x2="487.8" y2="487.6" stroke="#000" stroke-width="1.7"/>
<text transform="translate(481.40,492.80) scale(1,1.04)" font-size="15" text-anchor="end" font-family="Liberation Sans, Arial, sans-serif" font-weight="bold" >0.5</text>
<line x1="483" y1="540.3" x2="487.8" y2="540.3" stroke="#000" stroke-width="1.7"/>
<text transform="translate(481.40,545.50) scale(1,1.04)" font-size="15" text-anchor="end" font-family="Liberation Sans, Arial, sans-serif" font-weight="bold" >0.0</text>
<line x1="512.8" y1="540.3" x2="512.8" y2="545.8" stroke="#000" stroke-width="1.7"/>
<text transform="translate(517.80,559.30) rotate(-45) scale(1,1.04)" font-size="15" text-anchor="end" font-family="Liberation Sans, Arial, sans-serif" font-weight="bold" >Het-1A</text>
<line x1="549.4" y1="540.3" x2="549.4" y2="545.8" stroke="#000" stroke-width="1.7"/>
<text transform="translate(554.40,559.30) rotate(-45) scale(1,1.04)" font-size="15" text-anchor="end" font-family="Liberation Sans, Arial, sans-serif" font-weight="bold" >EC109</text>
<line x1="586.0" y1="540.3" x2="586.0" y2="545.8" stroke="#000" stroke-width="1.7"/>
<text transform="translate(591.00,559.30) rotate(-45) scale(1,1.04)" font-size="15" text-anchor="end" font-family="Liberation Sans, Arial, sans-serif" font-weight="bold" >KYSE30</text>
<line x1="622.6" y1="540.3" x2="622.6" y2="545.8" stroke="#000" stroke-width="1.7"/>
<text transform="translate(627.60,559.30) rotate(-45) scale(1,1.04)" font-size="15" text-anchor="end" font-family="Liberation Sans, Arial, sans-serif" font-weight="bold" >KYSE70</text>
<line x1="659.1" y1="540.3" x2="659.1" y2="545.8" stroke="#000" stroke-width="1.7"/>
<text transform="translate(664.10,559.30) rotate(-45) scale(1,1.04)" font-size="15" text-anchor="end" font-family="Liberation Sans, Arial, sans-serif" font-weight="bold" >KYSE150</text>
<text transform="translate(448.70,457.65) rotate(-90) scale(1,1.06)" font-size="15.17" text-anchor="middle" font-family="Liberation Sans, Arial, sans-serif" font-weight="bold" >XRCC2 protein level (fold)</text>
<defs><filter id="bl" x="-20%" y="-80%" width="140%" height="260%"><feGaussianBlur stdDeviation="0.85"/></filter><linearGradient id="bg1" x1="0" y1="0" x2="1" y2="1"><stop offset="0" stop-color="#efefef"/><stop offset="1" stop-color="#f5f5f5"/></linearGradient><linearGradient id="bg2" x1="0" y1="0" x2="1" y2="1"><stop offset="0" stop-color="#e2e2e2"/><stop offset="1" stop-color="#e8e8e8"/></linearGradient></defs>
<rect x="91.2" y="456.3" width="202.3" height="31.1" fill="url(#bg1)" stroke="#2a2a2a" stroke-width="1.1"/>
<rect x="91.2" y="492.5" width="202.3" height="32" fill="url(#bg2)" stroke="#2a2a2a" stroke-width="1.1"/>
<path d="M102.5,469.0 Q105.3,469.0 108.1,469.0 A4.5,2.5 0 0 1 108.1,474.0 Q105.3,474.0 102.5,474.0 A4.5,2.5 0 0 1 102.5,469.0 Z" fill="#000" filter="url(#bl)"/>
<path d="M115.7,469.5 Q118.8,469.5 122.0,469.5 A4.5,2.1 0 0 1 122.0,473.8 Q118.8,473.8 115.7,473.8 A4.5,2.1 0 0 1 115.7,469.5 Z" fill="#000" filter="url(#bl)"/>
<path d="M140.0,467.9 Q151.0,467.9 162.0,467.9 A3.9,3.6 0 0 1 162.0,475.1 Q151.0,475.1 140.0,475.1 A3.9,3.6 0 0 1 140.0,467.9 Z" fill="#000" filter="url(#bl)"/>
<path d="M179.7,468.9 Q189.0,469.2 198.3,468.9 A3.9,2.6 0 0 1 198.3,474.1 Q189.0,473.8 179.7,474.1 A3.9,2.6 0 0 1 179.7,468.9 Z" fill="#000" filter="url(#bl)"/>
<path d="M218.2,468.6 Q229.4,470.0 240.6,468.6 A3.9,2.9 0 0 1 240.6,474.4 Q229.4,473.6 218.2,474.4 A3.9,2.9 0 0 1 218.2,468.6 Z" fill="#000" filter="url(#bl)"/>
<path d="M258.9,467.9 Q271.0,467.9 283.1,467.9 A3.9,3.6 0 0 1 283.1,475.1 Q271.0,475.1 258.9,475.1 A3.9,3.6 0 0 1 258.9,467.9 Z" fill="#000" filter="url(#bl)"/>
<path d="M101.2,503.8 Q115.2,504.8 129.3,503.8 A3.2,3.8 0 0 1 129.3,511.4 Q115.2,512.0 101.2,511.4 A3.2,3.8 0 0 1 101.2,503.8 Z" fill="#000" filter="url(#bl)"/>
<path d="M139.1,503.8 Q153.6,504.8 168.0,503.8 A3.2,3.8 0 0 1 168.0,511.4 Q153.6,512.0 139.1,511.4 A3.2,3.8 0 0 1 139.1,503.8 Z" fill="#000" filter="url(#bl)"/>
<path d="M177.8,503.8 Q192.2,504.8 206.5,503.8 A3.2,3.8 0 0 1 206.5,511.4 Q192.2,512.0 177.8,511.4 A3.2,3.8 0 0 1 177.8,503.8 Z" fill="#000" filter="url(#bl)"/>
<path d="M216.4,503.8 Q230.8,504.8 245.1,503.8 A3.2,3.8 0 0 1 245.1,511.4 Q230.8,512.0 216.4,511.4 A3.2,3.8 0 0 1 216.4,503.8 Z" fill="#000" filter="url(#bl)"/>
<path d="M254.3,503.8 Q269.2,504.8 284.1,503.8 A3.2,3.8 0 0 1 284.1,511.4 Q269.2,512.0 254.3,511.4 A3.2,3.8 0 0 1 254.3,503.8 Z" fill="#000" filter="url(#bl)"/>
<text transform="translate(88.60,476.90) scale(1,1.02)" font-size="15.3" text-anchor="end" font-family="Liberation Sans, Arial, sans-serif" font-weight="bold" >XRCC2~</text>
<text transform="translate(88.60,512.90) scale(1,1.02)" font-size="15.3" text-anchor="end" font-family="Liberation Sans, Arial, sans-serif" font-weight="bold" >GAPDH~</text>
<text transform="translate(296.00,476.90) scale(1,1.02)" font-size="15.3" text-anchor="start" font-family="Liberation Sans, Arial, sans-serif" font-weight="bold" >~32kDa</text>
<text transform="translate(296.00,512.90) scale(1,1.02)" font-size="15.3" text-anchor="start" font-family="Liberation Sans, Arial, sans-serif" font-weight="bold" >~37kDa</text>
<text transform="translate(116.70,454.30) rotate(-45) scale(1,1.03)" font-size="15.4" text-anchor="start" font-family="Liberation Sans, Arial, sans-serif" font-weight="bold" >Het-1A</text>
<text transform="translate(156.00,454.30) rotate(-45) scale(1,1.03)" font-size="15.4" text-anchor="start" font-family="Liberation Sans, Arial, sans-serif" font-weight="bold" >EC109</text>
<text transform="translate(193.80,454.30) rotate(-45) scale(1,1.03)" font-size="15.4" text-anchor="start" font-family="Liberation Sans, Arial, sans-serif" font-weight="bold" >KYSE30</text>
<text transform="translate(233.80,454.30) rotate(-45) scale(1,1.03)" font-size="15.4" text-anchor="start" font-family="Liberation Sans, Arial, sans-serif" font-weight="bold" >KYSE70</text>
<text transform="translate(273.50,454.30) rotate(-45) scale(1,1.03)" font-size="15.4" text-anchor="start" font-family="Liberation Sans, Arial, sans-serif" font-weight="bold" >KYSE150</text><g transform="translate(113.90,219.65) scale(1,1.04)" fill="#fff"><rect x="-9.07" y="-2.51" width="3.97" height="3.05"/>
<rect x="-2.85" y="-2.51" width="2.80" height="3.05"/></g>
<g transform="translate(197.60,311.30)" fill="#fff"><rect x="-29.30" y="-2.47" width="3.89" height="2.99"/>
<rect x="-23.20" y="-2.47" width="2.75" height="2.99"/></g>
<g transform="translate(91.20,138.00) rotate(-90) scale(1,1.05)" fill="#fff"><rect x="73.39" y="-2.45" width="3.87" height="2.97"/>
<rect x="79.46" y="-2.45" width="2.73" height="2.97"/></g>
<g transform="translate(517.80,232.00) rotate(-45) scale(1,1.04)" fill="#fff"><rect x="-19.55" y="-2.42" width="3.82" height="2.93"/>
<rect x="-13.57" y="-2.42" width="2.70" height="2.93"/></g>
<g transform="translate(554.40,232.00) rotate(-45) scale(1,1.04)" fill="#fff"><rect x="-25.41" y="-2.42" width="3.82" height="2.93"/>
<rect x="-19.43" y="-2.42" width="2.70" height="2.93"/></g>
<g transform="translate(664.10,232.00) rotate(-45) scale(1,1.04)" fill="#fff"><rect x="-25.40" y="-2.42" width="3.82" height="2.93"/>
<rect x="-19.41" y="-2.42" width="2.70" height="2.93"/></g>
<g transform="translate(481.40,387.20) scale(1,1.04)" fill="#fff"><rect x="-21.23" y="-2.42" width="3.82" height="2.93"/>
<rect x="-15.24" y="-2.42" width="2.70" height="2.93"/></g>
<g transform="translate(481.40,440.10) scale(1,1.04)" fill="#fff"><rect x="-21.23" y="-2.42" width="3.82" height="2.93"/>
<rect x="-15.24" y="-2.42" width="2.70" height="2.93"/></g>
<g transform="translate(517.80,559.30) rotate(-45) scale(1,1.04)" fill="#fff"><rect x="-19.55" y="-2.42" width="3.82" height="2.93"/>
<rect x="-13.57" y="-2.42" width="2.70" height="2.93"/></g>
<g transform="translate(554.40,559.30) rotate(-45) scale(1,1.04)" fill="#fff"><rect x="-25.41" y="-2.42" width="3.82" height="2.93"/>
<rect x="-19.43" y="-2.42" width="2.70" height="2.93"/></g>
<g transform="translate(664.10,559.30) rotate(-45) scale(1,1.04)" fill="#fff"><rect x="-25.40" y="-2.42" width="3.82" height="2.93"/>
<rect x="-19.41" y="-2.42" width="2.70" height="2.93"/></g>
<g transform="translate(116.70,454.30) rotate(-45) scale(1,1.03)" fill="#fff"><rect x="29.55" y="-2.48" width="3.92" height="3.01"/>
<rect x="35.69" y="-2.48" width="2.77" height="3.01"/></g>
<g transform="translate(156.00,454.30) rotate(-45) scale(1,1.03)" fill="#fff"><rect x="21.00" y="-2.48" width="3.92" height="3.01"/>
<rect x="27.14" y="-2.48" width="2.77" height="3.01"/></g>
<g transform="translate(273.50,454.30) rotate(-45) scale(1,1.03)" fill="#fff"><rect x="41.53" y="-2.48" width="3.92" height="3.01"/>
<rect x="47.67" y="-2.48" width="2.77" height="3.01"/></g>
</svg>
</body></html>
